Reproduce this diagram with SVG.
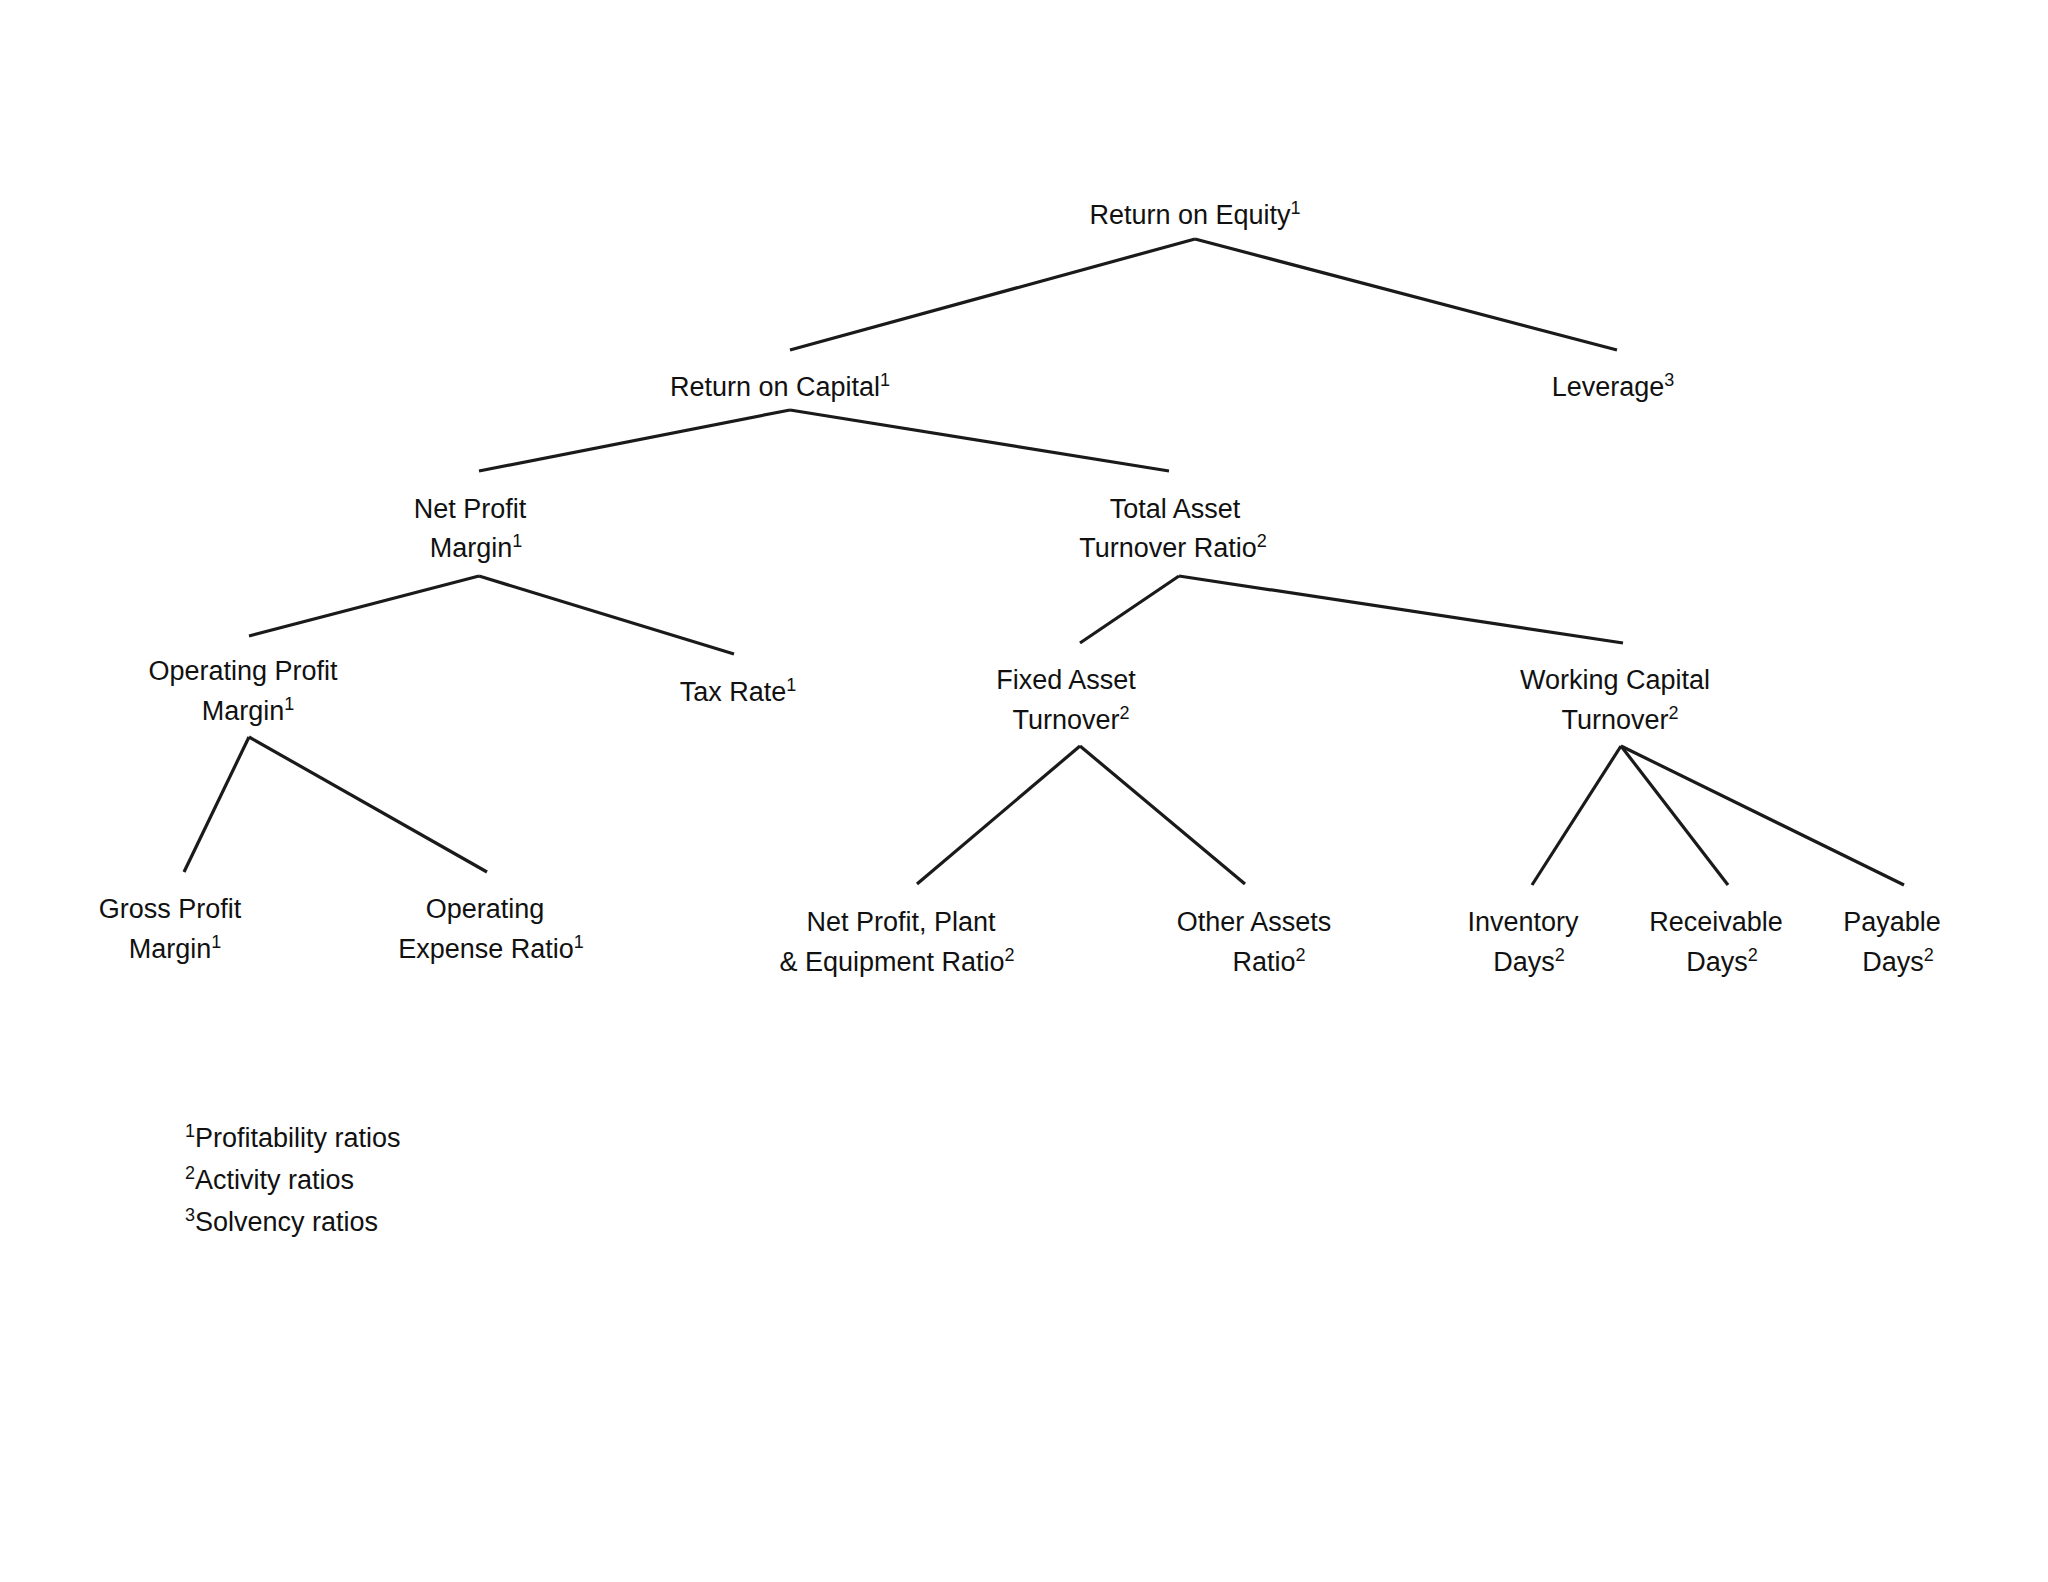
<svg xmlns="http://www.w3.org/2000/svg" width="2048" height="1582" viewBox="0 0 2048 1582">
<style>
text{font-family:"Liberation Sans",Arial,sans-serif;font-size:27px;fill:#111;text-anchor:middle}
.s{font-size:18px}
.l{text-anchor:start}
#edges line{stroke:#1a1a1a;stroke-width:3.2}
</style>
<rect width="2048" height="1582" fill="#fff"/>
<g id="edges">
<line x1="1195" y1="239" x2="790" y2="350"/><line x1="1195" y1="239" x2="1617" y2="350"/>
<line x1="790" y1="410" x2="479" y2="471"/><line x1="790" y1="410" x2="1169" y2="471"/>
<line x1="479" y1="576" x2="249" y2="636"/><line x1="479" y1="576" x2="734" y2="654"/>
<line x1="1179" y1="576" x2="1080" y2="643"/><line x1="1179" y1="576" x2="1623" y2="643"/>
<line x1="249" y1="737" x2="184" y2="872"/><line x1="249" y1="737" x2="487" y2="872"/>
<line x1="1080" y1="746" x2="917" y2="884"/><line x1="1080" y1="746" x2="1245" y2="884"/>
<line x1="1621" y1="746" x2="1532" y2="885"/><line x1="1621" y1="746" x2="1728" y2="885"/><line x1="1621" y1="746" x2="1904" y2="885"/>
</g>
<g id="roe"><text x="1195" y="224">Return on Equity<tspan class="s" dy="-10">1</tspan></text></g>
<g id="roc"><text x="780" y="396">Return on Capital<tspan class="s" dy="-10">1</tspan></text></g>
<g id="lev"><text x="1613" y="396">Leverage<tspan class="s" dy="-10">3</tspan></text></g>
<g id="npm"><text x="470" y="518">Net Profit</text><text x="476" y="557">Margin<tspan class="s" dy="-10">1</tspan></text></g>
<g id="tat"><text x="1175" y="518">Total Asset</text><text x="1173" y="557">Turnover Ratio<tspan class="s" dy="-10">2</tspan></text></g>
<g id="opm"><text x="243" y="680">Operating Profit</text><text x="248" y="720">Margin<tspan class="s" dy="-10">1</tspan></text></g>
<g id="tax"><text x="738" y="701">Tax Rate<tspan class="s" dy="-10">1</tspan></text></g>
<g id="fat"><text x="1066" y="689">Fixed Asset</text><text x="1071" y="729">Turnover<tspan class="s" dy="-10">2</tspan></text></g>
<g id="wct"><text x="1615" y="689">Working Capital</text><text x="1620" y="729">Turnover<tspan class="s" dy="-10">2</tspan></text></g>
<g id="gpm"><text x="170" y="918">Gross Profit</text><text x="175" y="958">Margin<tspan class="s" dy="-10">1</tspan></text></g>
<g id="oer"><text x="485" y="918">Operating</text><text x="491" y="958">Expense Ratio<tspan class="s" dy="-10">1</tspan></text></g>
<g id="npe"><text x="901" y="931">Net Profit, Plant</text><text x="897" y="971">&amp; Equipment Ratio<tspan class="s" dy="-10">2</tspan></text></g>
<g id="oar"><text x="1254" y="931">Other Assets</text><text x="1269" y="971">Ratio<tspan class="s" dy="-10">2</tspan></text></g>
<g id="inv"><text x="1523" y="931">Inventory</text><text x="1529" y="971">Days<tspan class="s" dy="-10">2</tspan></text></g>
<g id="rec"><text x="1716" y="931">Receivable</text><text x="1722" y="971">Days<tspan class="s" dy="-10">2</tspan></text></g>
<g id="pay"><text x="1892" y="931">Payable</text><text x="1898" y="971">Days<tspan class="s" dy="-10">2</tspan></text></g>
<g id="legend">
<text class="l" x="185" y="1147"><tspan class="s" dy="-10">1</tspan><tspan dy="10">Profitability ratios</tspan></text>
<text class="l" x="185" y="1189"><tspan class="s" dy="-10">2</tspan><tspan dy="10">Activity ratios</tspan></text>
<text class="l" x="185" y="1231"><tspan class="s" dy="-10">3</tspan><tspan dy="10">Solvency ratios</tspan></text>
</g>
</svg>
